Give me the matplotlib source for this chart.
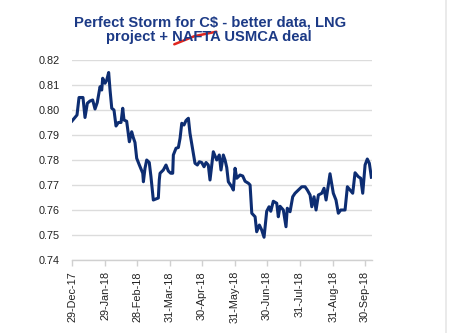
import matplotlib
matplotlib.use("Agg")
import matplotlib.pyplot as plt
from matplotlib.lines import Line2D
import pandas as pd

start_date = "2017-12-29"
days_since_start = [
    0, 4.7, 6.6, 10.3, 12.2, 14.4, 16.9, 19.4, 21.6, 23.7, 26.3, 27.9, 28.8, 31.0, 32.6,
    34.4, 35.7, 37.3, 39.4, 41.3, 43.5, 46.0, 47.6, 48.8, 51.3, 53.8, 56.0, 57.5, 59.1,
    60.7, 63.2, 66.4, 67.0, 68.5, 70.1, 72.5, 74.1, 76.3, 81.0, 81.9, 82.6, 85.7, 88.2,
    90.4, 92.6, 94.5, 95.1, 97.6, 99.8, 101.4, 103.0, 105.1, 107.0, 109.2, 110.7, 113.3,
    115.4, 117.6, 119.5, 121.7, 123.9, 125.8, 127.9, 129.5, 132.6, 135.8, 138.2, 139.8,
    142.0, 143.6, 145.2, 146.7, 149.9, 151.4, 153.0, 154.6, 157.7, 160.2, 162.4, 165.5,
    167.1, 168.7, 171.8, 173.3, 175.8, 178.0, 180.2, 182.7, 184.9, 186.5, 188.9, 192.1,
    193.6, 195.2, 198.3, 200.8, 202.0, 204.6, 207.1, 209.3, 212.4, 215.6, 218.7, 220.8,
    223.4, 225.0, 227.1, 229.0, 231.2, 234.4, 236.5, 238.4, 240.5, 242.1, 245.2, 247.7,
    249.9, 252.2, 256.2, 258.4, 260.9, 263.4, 265.6, 268.7, 270.9, 272.8, 275.0, 277.1,
    279.0, 280.9,
]
cad_usd = [
    0.7956, 0.798, 0.805, 0.805, 0.797, 0.8027, 0.8036, 0.804, 0.8004, 0.803, 0.8093, 0.808,
    0.8127, 0.8107, 0.812, 0.815, 0.808, 0.8007, 0.800, 0.7936, 0.795, 0.795, 0.8007, 0.796,
    0.7955, 0.7873, 0.7913, 0.789, 0.787, 0.7807, 0.778, 0.7747, 0.7713, 0.7767, 0.780, 0.779,
    0.7733, 0.764, 0.7648, 0.772, 0.7747, 0.776, 0.778, 0.7756, 0.7747, 0.7747, 0.782, 0.7847,
    0.785, 0.7887, 0.7947, 0.794, 0.7958, 0.7967, 0.7907, 0.784, 0.7787, 0.778, 0.7793, 0.779,
    0.7773, 0.779, 0.778, 0.772, 0.7833, 0.780, 0.782, 0.776, 0.782, 0.780, 0.777, 0.7713,
    0.7693, 0.768, 0.7767, 0.7727, 0.774, 0.7736, 0.7715, 0.7707, 0.770, 0.7587, 0.7573,
    0.7513, 0.754, 0.752, 0.7491, 0.7595, 0.7613, 0.7595, 0.7635, 0.7627, 0.7573, 0.7615,
    0.760, 0.7533, 0.7607, 0.7593, 0.7653, 0.7667, 0.768, 0.7693, 0.7693, 0.768, 0.766,
    0.7613, 0.7653, 0.760, 0.766, 0.7667, 0.7687, 0.764, 0.770, 0.7745, 0.7667, 0.764,
    0.7587, 0.760, 0.760, 0.7693, 0.768, 0.7667, 0.7749, 0.7733, 0.7727, 0.7667, 0.778,
    0.7804, 0.7787, 0.7731,
]
tick_dates = ["2017-12-29", "2018-01-29", "2018-02-28", "2018-03-31", "2018-04-30",
              "2018-05-31", "2018-06-30", "2018-07-31", "2018-08-31", "2018-09-30"]
tick_labels = ["29-Dec-17", "29-Jan-18", "28-Feb-18", "31-Mar-18", "30-Apr-18",
               "31-May-18", "30-Jun-18", "31-Jul-18", "31-Aug-18", "30-Sep-18"]
y_ticks = [0.74, 0.75, 0.76, 0.77, 0.78, 0.79, 0.80, 0.81, 0.82]

dates = pd.Timestamp(start_date) + pd.to_timedelta(days_since_start, unit="D")

plt.rcParams["font.family"] = ["Liberation Sans", "DejaVu Sans"]

fig = plt.figure(figsize=(4.74, 3.33), dpi=100)
ax = fig.add_axes([72/474, 1-260/333, 300/474, 200/333])

ax.plot(dates, cad_usd, color="#0d2d72", lw=2.2, solid_joinstyle="round")

ax.set_ylim(0.74, 0.82)
ax.set_yticks(y_ticks)
ax.set_yticklabels([f"{v:.2f}" for v in y_ticks])
ax.set_xlim(pd.Timestamp(start_date), pd.Timestamp(start_date) + pd.Timedelta(days=281.5))
ax.set_xticks(pd.to_datetime(tick_dates))
ax.set_xticklabels(tick_labels, rotation=90)

ax.grid(axis="y", color="#dcdcdc", lw=1.0)
ax.set_axisbelow(True)
for s in ["top", "right", "left"]:
    ax.spines[s].set_visible(False)
ax.spines["bottom"].set_color("#d0d0d0")
ax.spines["bottom"].set_linewidth(1.0)
ax.tick_params(axis="y", length=0, labelsize=7.8, colors="#222222", pad=9)
ax.tick_params(axis="x", length=4, width=1.0, color="#d0d0d0", labelsize=7.8,
               labelcolor="#222222", pad=4)

# slide border on the right
fig.add_artist(Line2D([445.5/474, 445.5/474], [0, 1], transform=fig.transFigure,
                      color="#e6e6e6", lw=1.2))

title_color = "#1c3a86"
title_size = 10.6
fig.text(210/474, 1-26.7/333, "Perfect Storm for C$ - better data, LNG", ha="center",
         va="baseline", fontsize=title_size, fontweight="bold", color=title_color)
line2 = "project + NAFTA USMCA deal"
t2 = fig.text(209/474, 1-41/333, line2, ha="center", va="baseline", fontsize=title_size,
              fontweight="bold", color=title_color)

fig.canvas.draw()
renderer = fig.canvas.get_renderer()
bb = t2.get_window_extent(renderer)

def width_of(s):
    tmp = fig.text(0, 0, s, fontsize=title_size, fontweight="bold")
    w = tmp.get_window_extent(renderer).width
    tmp.remove()
    return w

W, H = fig.bbox.width, fig.bbox.height
x1 = bb.x0 + width_of("project + NAFTA")
x0 = x1 - width_of("NAFTA")
base = H - 41
xs = [x0 + 2, x0 + 22, x0 + 44]
ys = [base - 3.3, base + 4.8, base + 9.3]
fig.add_artist(Line2D([v / W for v in xs], [v / H for v in ys],
                      transform=fig.transFigure, color="#e0261f", lw=1.8,
                      solid_capstyle="round", solid_joinstyle="round"))

fig.savefig("out.png", dpi=100, facecolor="white")
